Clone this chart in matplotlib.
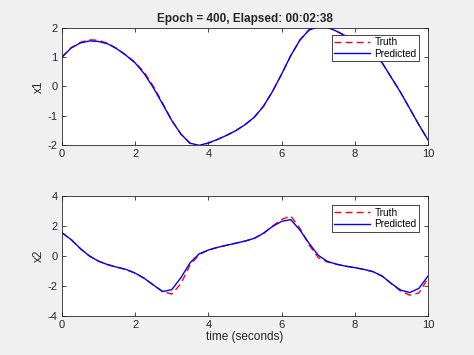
import matplotlib.pyplot as plt

# sample times (s)
t = [0.0, 0.25, 0.5, 0.75, 1.0, 1.25, 1.5, 1.75, 2.0, 2.25,
     2.5, 2.75, 3.0, 3.25, 3.5, 3.75, 4.0, 4.25, 4.5, 4.75,
     5.0, 5.25, 5.5, 5.75, 6.0, 6.25, 6.5, 6.75, 7.0, 7.25,
     7.5, 7.75, 8.0, 8.25, 8.5, 8.75, 9.0, 9.25, 9.5, 9.75, 10.0]

x1_truth = [1.00, 1.32, 1.50, 1.59, 1.57, 1.47, 1.29, 1.07, 0.82, 0.48,
            0.00, -0.57, -1.15, -1.62, -1.94, -2.02, -1.93, -1.80, -1.66, -1.50,
            -1.30, -1.05, -0.68, -0.17, 0.42, 1.05, 1.58, 1.93, 2.05, 2.01,
            1.88, 1.72, 1.55, 1.35, 1.12, 0.80, 0.30, -0.20, -0.75, -1.30, -1.82]
x1_pred = [1.00, 1.31, 1.48, 1.55, 1.53, 1.45, 1.28, 1.06, 0.80, 0.43,
           -0.05, -0.60, -1.16, -1.62, -1.93, -2.00, -1.92, -1.80, -1.66, -1.50,
           -1.30, -1.05, -0.68, -0.17, 0.42, 1.05, 1.58, 1.92, 2.03, 2.02,
           1.88, 1.72, 1.55, 1.35, 1.12, 0.80, 0.30, -0.20, -0.75, -1.30, -1.82]

x2_truth = [1.56, 1.10, 0.50, 0.00, -0.35, -0.58, -0.75, -0.90, -1.15, -1.50,
            -1.95, -2.38, -2.55, -1.85, -0.60, 0.10, 0.40, 0.58, 0.72, 0.86,
            1.00, 1.18, 1.50, 2.00, 2.45, 2.68, 1.85, 0.75, -0.10, -0.40,
            -0.55, -0.68, -0.78, -0.90, -1.05, -1.35, -1.85, -2.35, -2.62, -2.48, -1.50]
x2_pred = [1.56, 1.10, 0.50, 0.00, -0.35, -0.58, -0.75, -0.90, -1.15, -1.50,
           -1.95, -2.38, -2.25, -1.45, -0.45, 0.15, 0.40, 0.58, 0.72, 0.86,
           1.00, 1.18, 1.52, 1.98, 2.32, 2.44, 1.74, 0.85, 0.05, -0.36,
           -0.55, -0.68, -0.78, -0.90, -1.05, -1.35, -1.85, -2.28, -2.45, -2.17, -1.34]

plt.rcParams['font.family'] = ['Liberation Sans', 'DejaVu Sans']
plt.rcParams['axes.unicode_minus'] = False
txt = '#262626'

fig = plt.figure(figsize=(4.74, 3.55), dpi=100, facecolor='#f0f0f0')
ax1 = fig.add_axes([0.1308, 0.5907, 0.7722, 0.3313])
ax2 = fig.add_axes([0.1308, 0.1107, 0.7722, 0.3363])

for ax, tr, pr, ylim, yt, lab, legy in [
        (ax1, x1_truth, x1_pred, (-2, 2), [-2, -1, 0, 1, 2], 'x1', 0.938),
        (ax2, x2_truth, x2_pred, (-4, 4), [-4, -2, 0, 2, 4], 'x2', 0.927)]:
    ax.plot(t, tr, color='#ff0000', ls=(0, (5, 3)), lw=1.0, label='Truth')
    ax.plot(t, pr, color='#0000ff', lw=1.0, label='Predicted')
    ax.set_xlim(0, 10)
    ax.set_ylim(*ylim)
    ax.set_xticks([0, 2, 4, 6, 8, 10])
    ax.set_yticks(yt)
    ax.tick_params(direction='in', top=True, right=True, length=3, width=0.6,
                   labelsize=8, colors=txt, pad=3)
    for s in ax.spines.values():
        s.set_color(txt)
        s.set_linewidth(0.6)
    ax.set_ylabel(lab, fontsize=8.5, color=txt, labelpad=2)
    leg = ax.legend(loc='upper right', bbox_to_anchor=(0.9754, legy),
                    borderaxespad=0, fontsize=7.2, fancybox=False,
                    framealpha=1, edgecolor='#262626', handlelength=3.6,
                    handletextpad=0.4, borderpad=0.25, labelspacing=0.15)
    leg.get_frame().set_linewidth(0.6)

ax1.set_title('Epoch = 400, Elapsed: 00:02:38', fontsize=8.5, fontweight='bold',
              color=txt, pad=4)
ax2.set_xlabel('time (seconds)', fontsize=8.5, color=txt, labelpad=1)

fig.savefig('out.png', dpi=100, facecolor=fig.get_facecolor())
